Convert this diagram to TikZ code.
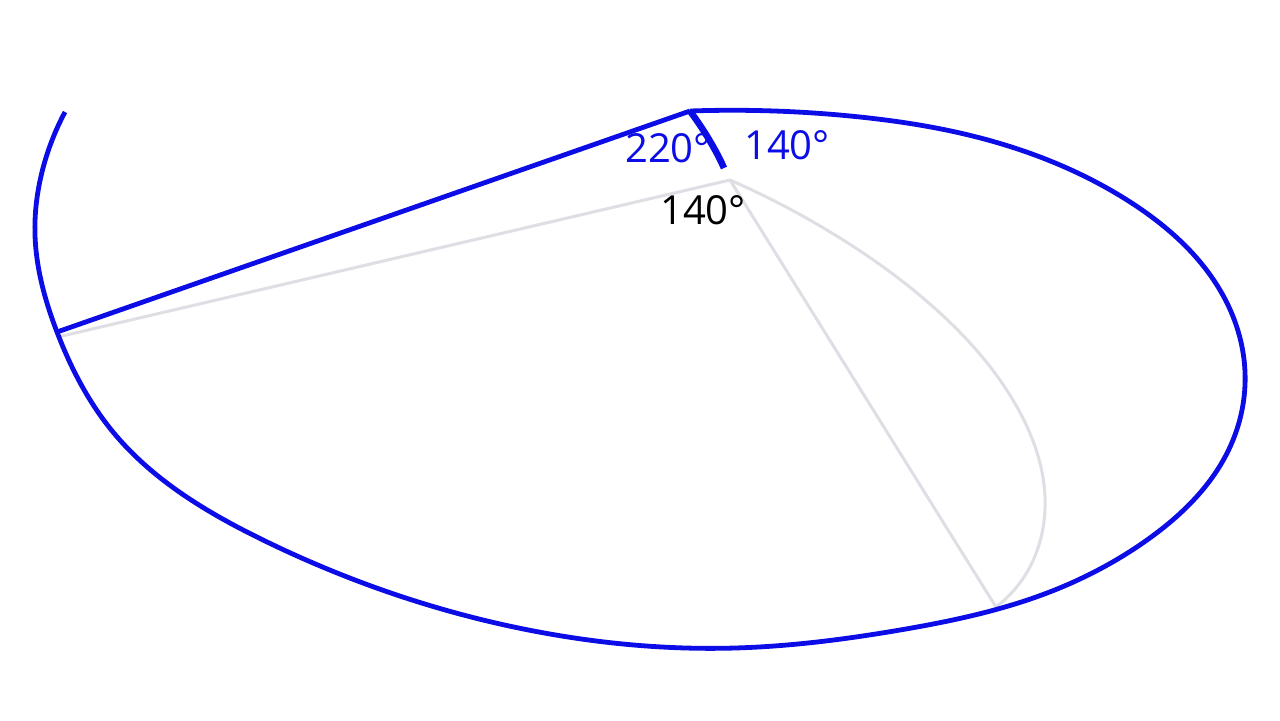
\documentclass[tikz,border=0pt]{standalone}
\usepackage{fontspec}
\usetikzlibrary{hobby}
\newfontfamily\lblfont{Open Sans}
\definecolor{curveblue}{RGB}{12,12,230}
\definecolor{guidegray}{RGB}{222,222,228}
\begin{document}
\begin{tikzpicture}[x=0.5pt,y=-0.5pt,
  bluecurve/.style={draw=curveblue,line width=2.4pt,line join=round},
  graycurve/.style={draw=guidegray,line width=1.5pt,line join=round},
  bluelabel/.style={text=curveblue,font=\lblfont\fontsize{20}{24}\selectfont,inner sep=0pt},
  blacklabel/.style={text=black,font=\lblfont\fontsize{20}{24}\selectfont,inner sep=0pt}]
\useasboundingbox (0,0) rectangle (1280,720);
% key points
\coordinate (start) at (65,112);
\coordinate (L) at (57,332);
\coordinate (T) at (690,111);
\coordinate (M) at (724,168);
\coordinate (A) at (730,180);
\coordinate (B) at (996,607);
\coordinate (G) at (58,337);
% gray guides
\draw[graycurve] (G) -- (A) -- (B);
\draw[graycurve,use Hobby shortcut] (A) .. (840,238) .. (940,313) .. (1017,407) .. (1045,497) .. (1024,577) .. (B);
% blue curve
\draw[bluecurve,use Hobby shortcut] (start) .. (42,172) .. (35,235) .. (L) .. (113,432)
  .. (263,540) .. (550,634) .. (735,648) .. (900,630) .. (1047,593) .. (1147,540)
  .. (1230,447) .. (1245,372) .. (1227,303) .. (1127,200) .. (960,133) .. (860,117) .. (T);
\draw[bluecurve] (L) -- (T);
\draw[draw=curveblue,line width=3.3pt,line cap=butt] (T) .. controls (704,130) and (716,150) .. (M);
% labels
\node[bluelabel] (l220) at (668,148) {220°};
\node[bluelabel] (l140b) at (787,145) {140°};
\node[blacklabel] (l140k) at (703,210) {140°};
\end{tikzpicture}
\end{document}
